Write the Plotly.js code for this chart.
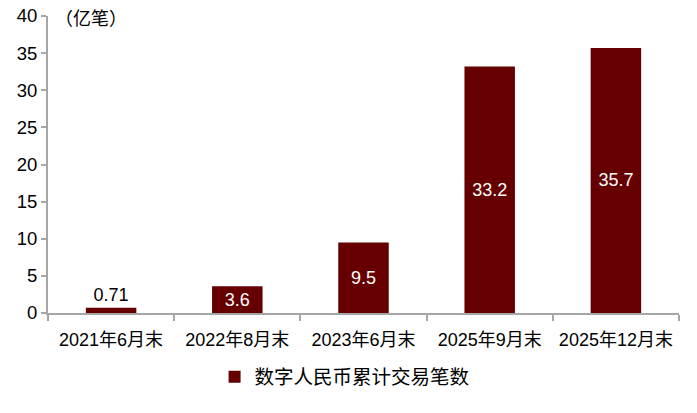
<!DOCTYPE html>
<html>
<head>
<meta charset="utf-8">
<script src="https://cdn.plot.ly/plotly-3.0.1.min.js"></script>
<style>html,body{margin:0;padding:0;background:#fff;}#chart{width:697px;height:413px;}</style>
</head>
<body>
<div id="chart"></div>
<script>
const categories = ["2021年6月末", "2022年8月末", "2023年6月末", "2025年9月末", "2025年12月末"];
const values = [0.71, 3.6, 9.5, 33.2, 35.7];
const valueLabels = ["0.71", "3.6", "9.5", "33.2", "35.7"];
const seriesName = "数字人民币累计交易笔数";
const unitLabel = "（亿笔）";
const yTicks = [0, 5, 10, 15, 20, 25, 30, 35, 40];

const FONT = "Liberation Sans, Arial, Noto Sans CJK SC, sans-serif";
const barColor = "#660000";

const trace = {
  type: "bar",
  x: categories,
  y: values,
  name: seriesName,
  marker: {color: barColor},
  text: valueLabels,
  textposition: values.map(v => v < 2 ? "outside" : "inside"),
  insidetextanchor: "middle",
  textangle: 0,
  cliponaxis: false,
  insidetextfont: {family: FONT, size: 18, color: "#ffffff"},
  outsidetextfont: {family: FONT, size: 18, color: "#000000"},
  hoverinfo: "none"
};

const layout = {
  width: 697, height: 413,
  margin: {l: 48, r: 18, t: 16, b: 100},
  paper_bgcolor: "#ffffff",
  plot_bgcolor: "#ffffff",
  font: {family: FONT, size: 18, color: "#000000"},
  bargap: 0.6,
  showlegend: true,
  legend: {
    orientation: "h",
    x: 0.264, xanchor: "left",
    y: -0.15, yanchor: "top",
    font: {family: FONT, size: 19.5, color: "#000000"},
    itemwidth: 30
  },
  xaxis: {
    type: "category",
    showline: true, linecolor: "#a6a6a6", linewidth: 2,
    ticks: "outside", tickson: "boundaries", ticklen: 6, tickcolor: "#a6a6a6", tickwidth: 2,
    showgrid: false, zeroline: false,
    tickangle: 0,
    ticklabelstandoff: 9,
    tickfont: {family: FONT, size: 18, color: "#000000"}
  },
  yaxis: {
    range: [0, 40],
    tickvals: yTicks,
    ticktext: yTicks.map(String),
    showline: true, linecolor: "#a6a6a6", linewidth: 2,
    ticks: "outside", ticklen: 5, tickcolor: "#a6a6a6", tickwidth: 2,
    showgrid: false, zeroline: false,
    tickfont: {family: FONT, size: 18.5, color: "#000000"}
  },
  annotations: [{
    text: unitLabel, xref: "paper", yref: "paper",
    x: 0.008, y: 0.99, xanchor: "left", yanchor: "middle",
    showarrow: false,
    font: {family: FONT, size: 18, color: "#000000"}
  }]
};

Plotly.newPlot("chart", [trace], layout, {staticPlot: true, displayModeBar: false});
</script>
</body>
</html>
